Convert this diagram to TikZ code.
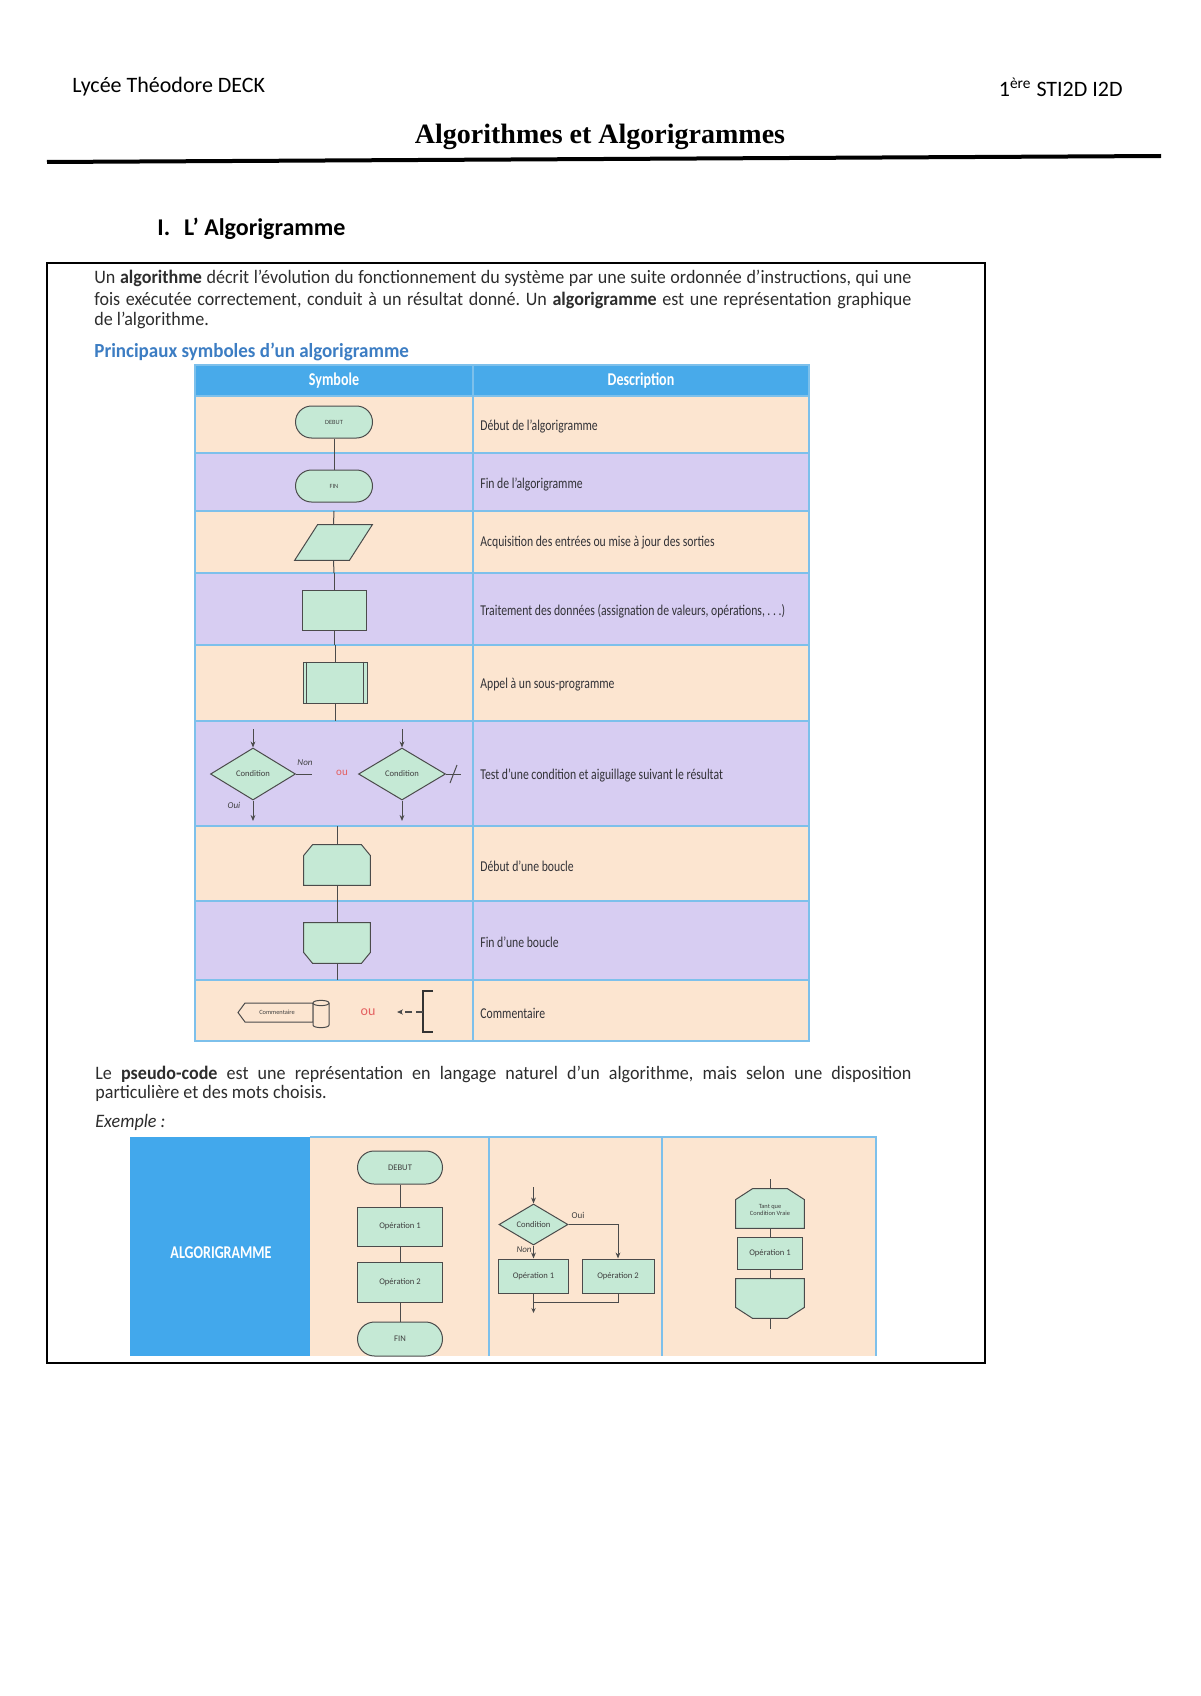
\documentclass[tikz,border=0pt]{standalone}
\usepackage{fontspec}
\setmainfont{Liberation Serif}
\newfontfamily\calib{Carlito}
\newfontfamily\cond[FakeStretch=0.78]{Carlito}
\newfontfamily\semi[FakeStretch=0.95]{Carlito}
\usetikzlibrary{shapes.misc,shapes.geometric,arrows.meta,calc}
\definecolor{hdrblue}{RGB}{72,170,234}
\definecolor{peach}{RGB}{252,229,208}
\definecolor{lav}{RGB}{215,205,242}
\definecolor{gridblue}{RGB}{125,192,235}
\definecolor{shapegreen}{RGB}{197,233,213}
\definecolor{shapeline}{RGB}{75,75,75}
\definecolor{titleblue}{RGB}{60,125,195}
\definecolor{oured}{RGB}{228,95,95}
\definecolor{panelblue}{RGB}{66,168,236}
\definecolor{bodytext}{RGB}{45,45,45}
\definecolor{desctext}{RGB}{50,50,55}
\frenchspacing
\begin{document}
\begin{tikzpicture}[x=0.5pt,y=-0.5pt,
  shp/.style={draw=shapeline, fill=shapegreen, line width=0.5pt},
  term/.style={shp, rounded rectangle, inner sep=0pt},
  proc/.style={shp, rectangle, inner sep=0pt},
  cond/.style={shp, diamond, inner sep=0pt},
  box/.style={rectangle, inner sep=0pt},
  wire/.style={draw=shapeline, line width=0.5pt},
  arr/.style={wire, -{Stealth[length=3pt,width=2.4pt]}},
  grid/.style={draw=gridblue, line width=0.6pt},
  desc/.style={anchor=west, font=\cond\fontsize{7.5}{9}\selectfont, text=desctext, inner sep=0pt},
  tinyt/.style={font=\calib\fontsize{3.2}{3.8}\selectfont, text=black!75, inner sep=0pt, align=center},
  smallt/.style={font=\calib\fontsize{4.3}{5}\selectfont, text=black!75, inner sep=0pt, align=center},
  lbl/.style={font=\calib\itshape\fontsize{4.5}{5}\selectfont, text=black!75, inner sep=0pt},
  para/.style={anchor=base west, font=\semi\fontsize{9.5}{11}\selectfont, text=bodytext, inner sep=0pt}
]
\useasboundingbox (0,0) rectangle (1200,1696);
\fill[white] (0,0) rectangle (1200,1696);

% ---------- page header ----------
\node[anchor=west, font=\calib\fontsize{11}{13}\selectfont, inner sep=0pt] (lycee) at (72,87) {Lycée Théodore DECK};
\node[anchor=east, font=\calib\fontsize{11}{13}\selectfont, inner sep=0pt] (classe) at (1123,87) {1\textsuperscript{ère} STI2D I2D};
\node[font=\bfseries\fontsize{14}{16}\selectfont, inner sep=0pt] (title) at (600,137) {Algorithmes et Algorigrammes};
\coordinate (hl1) at (47,162);
\coordinate (hl2) at (1161,156);
\draw[line width=2pt] (hl1) -- (hl2);
\node[anchor=west, font=\calib\bfseries\fontsize{12}{14}\selectfont, inner sep=0pt] (sec) at (157,229) {I.\hspace{7pt}L’ Algorigramme};

% ---------- outer frame ----------
\draw[line width=1.4pt] (47,263) rectangle (985,1363);

% ---------- paragraph 1 ----------
\node[para] (p1a) at (94,284) {\makebox[408.5pt][s]{Un \textbf{algorithme} décrit l’évolution du fonctionnement du système par une suite ordonnée d’instructions, qui une}};
\node[para] (p1b) at (94,305) {\makebox[408.5pt][s]{fois exécutée correctement, conduit à un résultat donné. Un \textbf{algorigramme} est une représentation graphique}};
\node[para] (p1c) at (94,325) {de l’algorithme.};
\node[anchor=base west, font=\semi\bfseries\fontsize{10}{11}\selectfont, text=titleblue, inner sep=0pt] (princ) at (94,357) {Principaux symboles d’un algorigramme};

% ---------- symbol table ----------
\fill[hdrblue] (195,365) rectangle (809,396);
\foreach \ya/\yb/\cc in {396/453/peach,453/511/lav,511/573/peach,573/645/lav,645/721/peach,721/826/lav,826/901/peach,901/980/lav,980/1041/peach}
  \fill[\cc] (195,\ya) rectangle (809,\yb);
\foreach \yy in {396,453,511,573,645,721,826,901,980}
  \draw[grid] (195,\yy) -- (809,\yy);
\draw[grid] (473,365) -- (473,1041);
\draw[grid] (195,365) rectangle (809,1041);
\node[font=\cond\bfseries\fontsize{9}{10}\selectfont, text=white] (hsym) at (334,381) {Symbole};
\node[font=\cond\bfseries\fontsize{9}{10}\selectfont, text=white] (hdesc) at (641,381) {Description};

\node[desc] (d1) at (480,426) {Début de l’algorigramme};
\node[desc] (d2) at (480,484) {Fin de l’algorigramme};
\node[desc] (d3) at (480,543) {Acquisition des entrées ou mise à jour des sorties};
\node[desc] (d4) at (480,611) {Traitement des données (assignation de valeurs, opérations,\,. . .)};
\node[desc] (d5) at (480,685) {Appel à un sous-programme};
\node[desc] (d6) at (480,775) {Test d’une condition et aiguillage suivant le résultat};
\node[desc] (d7) at (480,866) {Début d’une boucle};
\node[desc] (d8) at (480,942) {Fin d’une boucle};
\node[desc] (d9) at (480,1013) {Commentaire};

% row 1
\node[term, minimum width=38.5pt, minimum height=16pt] (s1) at (334,422) {};
\node[tinyt] (s1t) at (334,422) {DEBUT};
\coordinate (s1o) at (334,453);
\draw[wire] (s1) -- (s1o);
% row 2
\coordinate (s2i) at (334,453);
\node[term, minimum width=38.5pt, minimum height=16pt] (s2) at (334,486) {};
\node[tinyt] (s2t) at (334,486) {FIN};
\draw[wire] (s2i) -- (s2);
% row 3
\node[box, minimum width=38.5pt, minimum height=17.5pt] (s3) at (333.5,542.5) {};
\draw[shp] (s3.south west) -- ($(s3.north west)+(23,0)$) -- (s3.north east) -- ($(s3.south east)-(23,0)$) -- cycle;
\coordinate (s3i) at (334,511);
\coordinate (s3o) at (334,573);
\draw[wire] (s3i) -- (s3.north);
\draw[wire] (s3.south) -- (s3o);
% row 4
\coordinate (s4i) at (334,573);
\coordinate (s4o) at (334,645);
\node[proc, minimum width=32pt, minimum height=20pt] (s4) at (334,610) {};
\draw[wire] (s4i) -- (s4);
\draw[wire] (s4) -- (s4o);
% row 5
\coordinate (s5i) at (335,645);
\coordinate (s5o) at (335,721);
\node[proc, minimum width=32pt, minimum height=20.5pt] (s5) at (335,682.5) {};
\draw[wire] ($(s5.north west)+(4,0)$) -- ($(s5.south west)+(4,0)$);
\draw[wire] ($(s5.north east)-(4,0)$) -- ($(s5.south east)-(4,0)$);
\draw[wire] (s5i) -- (s5);
\draw[wire] (s5) -- (s5o);
% row 6
\node[cond, minimum width=42.5pt, minimum height=26pt] (s6a) at (253,774) {};
\node[smallt] (s6at) at (253,774) {Condition};
\coordinate (s6ai) at (253,729);
\coordinate (s6ao) at (253,821);
\coordinate (s6an) at (312,774);
\draw[arr] (s6ai) -- (s6a);
\draw[arr] (s6a) -- (s6ao);
\draw[wire] (s6a.east) -- (s6an);
\node[lbl] (non1) at (305,763) {Non};
\node[lbl] (oui1) at (234,805) {Oui};
\node[font=\calib\fontsize{5.5}{6}\selectfont, text=oured] (ou1) at (342,773) {ou};
\node[cond, minimum width=43.5pt, minimum height=26pt] (s6b) at (402,774) {};
\node[smallt] (s6bt) at (402,774) {Condition};
\coordinate (s6bi) at (402,729);
\coordinate (s6bo) at (402,821);
\coordinate (s6br) at (461,774);
\draw[arr] (s6bi) -- (s6b);
\draw[arr] (s6b) -- (s6bo);
\draw[wire] (s6b.east) -- (s6br);
\draw[wire] (450,783) -- (457,765);
% row 7 : loop start
\coordinate (s7i) at (337,826);
\coordinate (s7o) at (337,901);
\node[box, minimum width=33pt, minimum height=20pt] (s7) at (337,865) {};
\draw[shp] (s7.south west) -- ($(s7.north west)+(0,11)$) -- ($(s7.north west)+(9,0)$) -- ($(s7.north east)+(-9,0)$) -- ($(s7.north east)+(0,11)$) -- (s7.south east) -- cycle;
\draw[wire] (s7i) -- (s7);
\draw[wire] (s7) -- (s7o);
% row 8 : loop end
\coordinate (s8i) at (337,901);
\coordinate (s8o) at (337,980);
\node[box, minimum width=33pt, minimum height=20pt] (s8) at (337,943) {};
\draw[shp] (s8.north west) -- (s8.north east) -- ($(s8.south east)+(0,-11)$) -- ($(s8.south east)+(-9,0)$) -- ($(s8.south west)+(9,0)$) -- ($(s8.south west)+(0,-11)$) -- cycle;
\draw[wire] (s8i) -- (s8);
\draw[wire] (s8) -- (s8o);
% row 9
\node[tinyt] (cm) at (277,1012.5) {Commentaire};
\draw[wire] (238,1012.5) -- (245,1003) -- (313,1003) -- (313,1022) -- (245,1022) -- cycle;
\draw[wire, fill=peach] (313,1003) -- (313,1025) .. controls (313,1028.5) and (329,1028.5) .. (329,1025) -- (329,1003);
\draw[wire, fill=peach] (313,1003) .. controls (313,999.5) and (329,999.5) .. (329,1003) .. controls (329,1006.5) and (313,1006.5) .. (313,1003);
\node[font=\calib\fontsize{7}{8}\selectfont, text=oured] (ou2) at (368,1012) {ou};
\draw[draw=black!80, line width=0.9pt] (433,991) -- (423,991) -- (423,1032) -- (433,1032);
\coordinate (brk) at (423,1012);
\coordinate (brka) at (397,1012);
\draw[wire, line width=0.7pt, dash pattern=on 3.5pt off 2pt, -{Stealth[length=3pt,width=2.6pt]}] (brk) -- (brka);

% ---------- paragraph 2 ----------
\node[para] (p2a) at (95,1079) {\makebox[408pt][s]{Le \textbf{pseudo-code} est une représentation en langage naturel d’un algorithme, mais selon une disposition}};
\node[para] (p2b) at (95,1098) {particulière et des mots choisis.};
\node[para, font=\semi\itshape\fontsize{9.5}{11}\selectfont] (ex) at (95,1127) {Exemple :};

% ---------- example table ----------
\fill[peach] (130,1137) rectangle (876,1356);
\fill[panelblue] (130,1137) rectangle (310,1356);
\draw[grid] (310,1137) -- (876,1137) -- (876,1356);
\draw[grid] (489,1137) -- (489,1356);
\draw[grid] (662,1137) -- (662,1356);
\node[font=\cond\bfseries\fontsize{9}{11}\selectfont, text=white] (algo) at (221,1253) {ALGORIGRAMME};

% column 2
\node[term, minimum width=42.5pt, minimum height=16.5pt] (e1) at (400,1167.5) {};
\node[smallt] (e1t) at (400,1167.5) {DEBUT};
\node[proc, minimum width=42.5pt, minimum height=19.5pt] (e2) at (400,1226.5) {};
\node[smallt] (e2t) at (400,1226.5) {Opération 1};
\node[proc, minimum width=42.5pt, minimum height=20pt] (e3) at (400,1282) {};
\node[smallt] (e3t) at (400,1282) {Opération 2};
\node[term, minimum width=42.5pt, minimum height=17pt] (e4) at (400,1339) {};
\node[smallt] (e4t) at (400,1339) {FIN};
\draw[wire] (e1) -- (e2);
\draw[wire] (e2) -- (e3);
\draw[wire] (e3) -- (e4);

% column 3
\coordinate (f0) at (533.5,1187);
\node[cond, minimum width=34.5pt, minimum height=20.5pt] (f1) at (533.5,1224.5) {};
\node[smallt] (f1t) at (533.5,1224.5) {Condition};
\node[proc, minimum width=35pt, minimum height=17pt] (f2) at (533.5,1276) {};
\node[smallt] (f2t) at (533.5,1276) {Opération 1};
\node[proc, minimum width=36pt, minimum height=17pt] (f3) at (618,1276) {};
\node[smallt] (f3t) at (618,1276) {Opération 2};
\coordinate (fj) at (533.5,1302);
\coordinate (fo) at (533.5,1313);
\draw[arr] (f0) -- (f1);
\draw[arr] (f1) -- (f2);
\draw[arr] (f1.east) -| (f3.north);
\draw[wire] (f3.south) |- (fj);
\draw[wire, -{Stealth[length=2.5pt,width=2.2pt]}] (f2.south) -- (fo);
\node[lbl, font=\calib\fontsize{4.5}{5}\selectfont] (foui) at (578,1215) {Oui};
\node[lbl, anchor=east] (fnon) at (532,1250) {Non};

% column 4
\coordinate (g0) at (770,1179);
\node[box, minimum width=34pt, minimum height=19.5pt] (g1) at (770,1208.5) {};
\draw[shp] (g1.south west) -- ($(g1.north west)+(0,11)$) -- ($(g1.north west)+(17,0)$) -- ($(g1.north east)+(-17,0)$) -- ($(g1.north east)+(0,11)$) -- (g1.south east) -- cycle;
\node[tinyt] (g1t) at (770,1210) {Tant que\\Condition Vraie};
\node[proc, minimum width=32.5pt, minimum height=16pt] (g2) at (770,1253) {};
\node[smallt] (g2t) at (770,1253) {Opération 1};
\node[box, minimum width=34pt, minimum height=19.5pt] (g3) at (770,1298.5) {};
\draw[shp] (g3.north west) -- (g3.north east) -- ($(g3.south east)+(0,-11)$) -- ($(g3.south east)+(-17,0)$) -- ($(g3.south west)+(17,0)$) -- ($(g3.south west)+(0,-11)$) -- cycle;
\coordinate (g4) at (770,1329);
\draw[wire] (g0) -- (g1);
\draw[wire] (g1) -- (g2);
\draw[wire] (g2) -- (g3);
\draw[wire] (g3) -- (g4);
\end{tikzpicture}
\end{document}
